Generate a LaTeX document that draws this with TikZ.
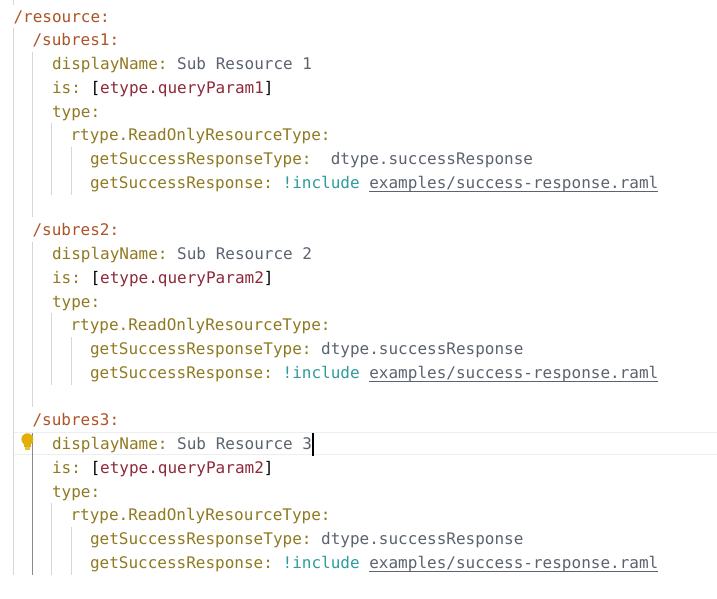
\documentclass[tikz,border=0pt]{standalone}
\usepackage{fontspec}
\setmonofont{DejaVu Sans Mono}
\definecolor{keyc}{HTML}{8F7A22}
\definecolor{valc}{HTML}{5C6370}
\definecolor{pathc}{HTML}{AE5428}
\definecolor{etc}{HTML}{8E2A3A}
\definecolor{incc}{HTML}{2E9C9C}
\definecolor{guide}{HTML}{D6D6D6}
\definecolor{guideact}{HTML}{8A8A8A}
\definecolor{hl}{HTML}{EEEEEE}
\definecolor{bulb}{HTML}{E2AE0A}
\newcommand{\K}[1]{\textcolor{keyc}{#1}}
\newcommand{\V}[1]{\textcolor{valc}{#1}}
\newcommand{\PP}[1]{\textcolor{pathc}{#1}}
\newcommand{\E}[1]{\textcolor{etc}{#1}}
\newcommand{\I}[1]{\textcolor{incc}{#1}}
\tikzset{
  code/.style={anchor=base west,inner sep=0pt,outer sep=0pt,font=\ttfamily\fontsize{16}{16}\selectfont},
  guideline/.style={draw=guide,line width=1.1pt},
  activeline/.style={draw=guideact,line width=1.1pt},
  linkline/.style={draw=valc,line width=1pt}
}
\begin{document}
\begin{tikzpicture}[x=1pt,y=-1pt]
\useasboundingbox (0,0) rectangle (717,598);
\fill[white] (0,0) rectangle (717,598);
% current line highlight
\draw[hl,line width=1.4pt] (14,432.7) -- (717,432.7);
\draw[hl,line width=1.4pt] (14,454.5) -- (717,454.5);
% indent guides
\draw[guideline] (13.5,0) -- (13.5,5);
\draw[guideline] (13.5,28) -- (13.5,575);
\draw[guideline] (32.5,52) -- (32.5,217);
\draw[guideline] (32.5,242) -- (32.5,407);
\draw[activeline] (32.5,433) -- (32.5,575);
\foreach \o in {0,190,380}{
  \draw[guideline] (51.5,\o+123) -- (51.5,\o+195);
  \draw[guideline] (71.5,\o+147) -- (71.5,\o+195);
}
% code
\node[code] (l0) at (13.5,22) {\PP{/resource:}};
\node[code] (l1) at (32.5,45.75) {\PP{/subres1:}};
\node[code] (l2) at (52,69.5) {\K{displayName:} \V{Sub Resource 1}};
\node[code] (l3) at (52,93.25) {\K{is:} [\E{etype.queryParam1}]};
\node[code] (l4) at (52,117) {\K{type:}};
\node[code] (l5) at (70.5,140.75) {\K{rtype.ReadOnlyResourceType:}};
\node[code] (l6) at (90,164.5) {\K{getSuccessResponseType:}\ \ \V{dtype.successResponse}};
\node[code] (l7) at (90,188.25) {\K{getSuccessResponse:} \I{!include} \V{examples/success-response.raml}};
\node[code] (m1) at (32.5,235.75) {\PP{/subres2:}};
\node[code] (m2) at (52,259.5) {\K{displayName:} \V{Sub Resource 2}};
\node[code] (m3) at (52,283.25) {\K{is:} [\E{etype.queryParam2}]};
\node[code] (m4) at (52,307) {\K{type:}};
\node[code] (m5) at (70.5,330.75) {\K{rtype.ReadOnlyResourceType:}};
\node[code] (m6) at (90,354.5) {\K{getSuccessResponseType:} \V{dtype.successResponse}};
\node[code] (m7) at (90,378.25) {\K{getSuccessResponse:} \I{!include} \V{examples/success-response.raml}};
\node[code] (n1) at (32.5,425.75) {\PP{/subres3:}};
\node[code] (n2) at (52,449.5) {\K{displayName:} \V{Sub Resource 3}};
\node[code] (n3) at (52,473.25) {\K{is:} [\E{etype.queryParam2}]};
\node[code] (n4) at (52,497) {\K{type:}};
\node[code] (n5) at (70.5,520.75) {\K{rtype.ReadOnlyResourceType:}};
\node[code] (n6) at (90,544.5) {\K{getSuccessResponseType:} \V{dtype.successResponse}};
\node[code] (n7) at (90,568.25) {\K{getSuccessResponse:} \I{!include} \V{examples/success-response.raml}};
% link underlines
\draw[linkline] (369,191.5) -- (658,191.5);
\draw[linkline] (369,381.5) -- (658,381.5);
\draw[linkline] (369,571.5) -- (658,571.5);
% cursor
\draw[black,line width=1.6pt] (313,432.5) -- (313,455.5);
% light bulb
\fill[bulb] (27.4,439.3) circle (6);
\fill[bulb] (24.3,443) rectangle (30.5,446.5);
\fill[bulb!80!white] (25,446.5) rectangle (30,449.5);
\end{tikzpicture}
\end{document}
